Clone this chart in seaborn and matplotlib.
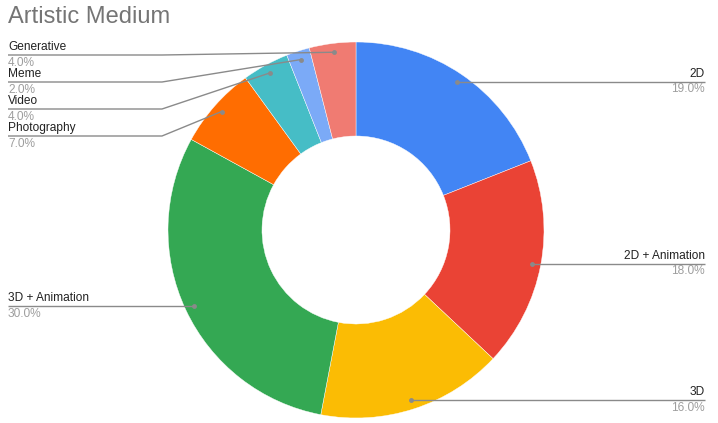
import numpy as np
import seaborn as sns
import matplotlib.pyplot as plt

# chart data
categories = ['2D', '2D + Animation', '3D', '3D + Animation',
              'Photography', 'Video', 'Meme', 'Generative']
shares = [19, 18, 16, 30, 7, 4, 2, 4]
colors = ['#4285F4', '#EA4335', '#FBBC04', '#34A853',
          '#FF6D01', '#46BDC6', '#7BAAF7', '#F07B72']

sns.set_theme(style='white')
plt.rcParams['font.family'] = ['Liberation Sans', 'DejaVu Sans']

W, H = 718, 423
fig = plt.figure(figsize=(W / 100, H / 100), dpi=100)
ax = fig.add_axes([0, 0, 1, 1])

# layout (pixel coords, y measured from top)
cx, cy = 356, 230
R = 188
hole = 94

ax.pie(shares, colors=colors, startangle=90, counterclock=False,
       radius=R, center=(cx, H - cy),
       wedgeprops=dict(width=R - hole, edgecolor='white', linewidth=0.3))
ax.set_xlim(0, W)
ax.set_ylim(0, H)
ax.set_aspect('equal')
ax.axis('off')

# label layout: side, line y (None = straight from dot)
label_side = ['right', 'right', 'right', 'left', 'left', 'left', 'left', 'left']
label_y = [None, None, None, None, 136, 109, 82, 55]
left_x, right_x, knee_x = 8, 705, 162
line_col = '#8a8a8a'

total = sum(shares)
cum = np.cumsum([0] + shares)
for i, name in enumerate(categories):
    mid = (cum[i] + cum[i + 1]) / 2 / total
    ang = np.deg2rad(90 - mid * 360)
    dx = cx + 0.953 * R * np.cos(ang)
    dy = cy - 0.953 * R * np.sin(ang)
    ly = dy if label_y[i] is None else label_y[i]
    pct = f'{shares[i] / total * 100:.1f}%'
    if label_side[i] == 'right':
        xs, ys = [dx, right_x], [dy, ly]
        tx, ha = right_x, 'right'
    else:
        if label_y[i] is None:
            xs, ys = [left_x, dx], [ly, dy]
        else:
            xs, ys = [left_x, knee_x, dx], [ly, ly, dy]
        tx, ha = left_x, 'left'
    ax.plot(xs, [H - v for v in ys], color=line_col, lw=1, solid_capstyle='butt')
    ax.plot(dx, H - dy, 'o', color=line_col, ms=3.5, mec='none')
    ax.text(tx, H - ly + 2, name, ha=ha, va='bottom', fontsize=8.6, color='#222222')
    ax.text(tx, H - ly - 1.5, pct, ha=ha, va='top', fontsize=8.6, color='#9e9e9e')

ax.text(8, H - 17, 'Artistic Medium', ha='left', va='center',
        fontsize=17, color='#757575')

fig.savefig('out.png', dpi=100)
